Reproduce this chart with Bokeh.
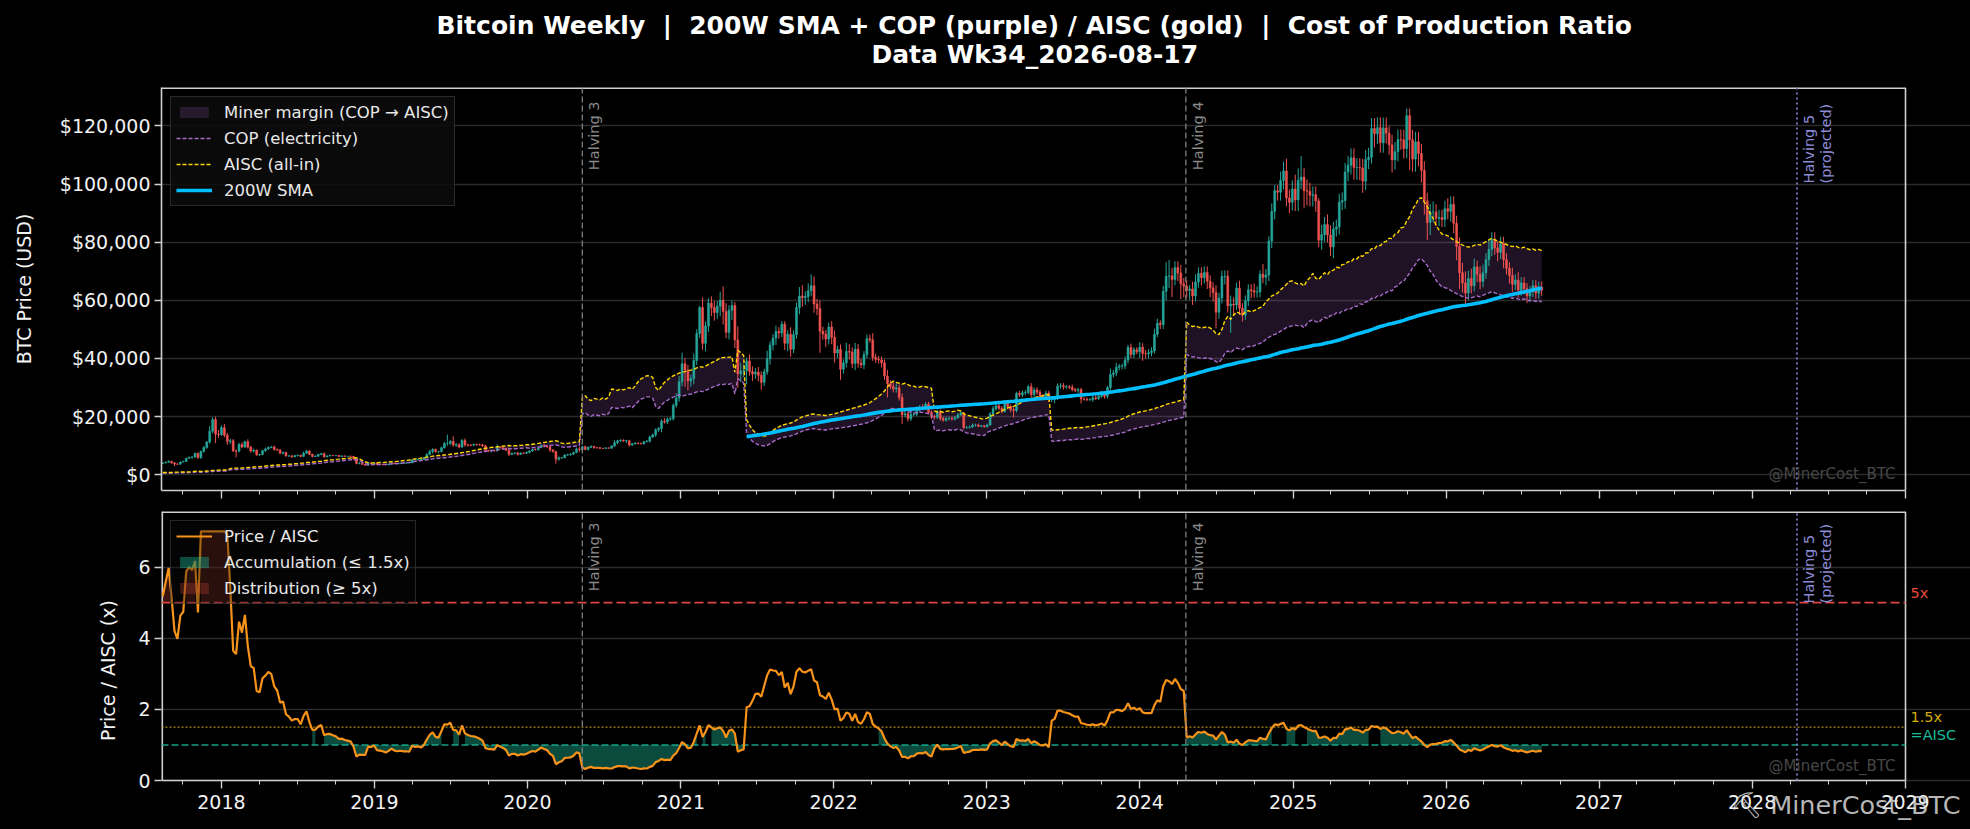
import numpy as np
import pandas as pd
from bokeh.plotting import figure
from bokeh.layouts import column
from bokeh.models import (ColumnDataSource, Range1d, FixedTicker, NumeralTickFormatter,
                          CustomJSTickFormatter, DatetimeTickFormatter, Span, Label,
                          Legend, LegendItem, Title)
from bokeh.embed import file_html
from bokeh.resources import INLINE

# ---------------- data: weekly (Monday-dated) values, USD thousands ----------------
close_2017 = [4.09, 4.35, 4.60, 4.12, 3.70, 3.66, 4.40, 4.60, 5.70, 6.00, 6.15, 7.40, 5.95, 8.05, 9.35, 11.25, 15.00, 19.00, 14.00, 13.80]
close_2018 = [16.2, 13.6, 11.5, 11.7, 8.2, 8.1, 10.4, 9.6, 11.4, 9.5, 8.2, 8.4, 6.9, 7.0, 8.3, 8.9, 9.4, 9.6, 8.7, 8.5, 7.4, 7.7, 6.5, 6.5, 6.2, 6.6, 6.7, 6.35, 7.4, 8.2, 7.0, 6.3, 6.4, 7.0, 7.3, 6.2, 6.5, 6.7, 6.6, 6.6, 6.3, 6.5, 6.35, 6.4, 6.35, 5.6, 3.9, 4.0, 3.6, 3.25, 4.0, 3.85, 4.05]
close_2019 = [3.55, 3.55, 3.45, 3.40, 3.65, 4.00, 3.80, 3.80, 3.95, 4.00, 4.05, 4.10, 5.15, 5.15, 5.30, 5.30, 5.80, 7.00, 8.00, 8.70, 8.00, 8.00, 9.30, 10.80, 10.80, 11.50, 10.20, 10.35, 9.55, 11.80, 10.30, 10.20, 10.15, 10.40, 10.35, 10.30, 9.98, 8.30, 8.15, 8.30, 8.23, 9.55, 9.30, 9.05, 8.50, 7.05, 7.40, 7.50, 7.05, 7.50, 7.40, 7.75]
close_2020 = [8.20, 8.70, 8.60, 9.35, 10.15, 9.90, 9.65, 8.55, 8.00, 5.35, 5.85, 5.90, 6.80, 6.90, 7.10, 7.70, 8.90, 8.70, 9.67, 8.72, 9.45, 9.75, 9.35, 9.30, 9.10, 9.08, 9.25, 9.16, 9.93, 11.05, 11.68, 11.85, 11.65, 11.70, 10.25, 10.68, 10.92, 10.78, 10.67, 11.38, 11.50, 13.03, 13.74, 15.48, 15.96, 18.40, 18.20, 19.15, 19.25, 23.85, 26.45, 32.00]
close_2021 = [38.2, 36.0, 32.25, 33.1, 39.3, 48.6, 57.5, 45.2, 51.2, 59.0, 57.5, 55.8, 58.0, 60.0, 56.2, 49.0, 56.6, 58.2, 46.4, 34.7, 35.7, 35.8, 39.1, 35.5, 34.7, 35.3, 34.2, 31.8, 35.4, 39.9, 44.6, 47.0, 49.3, 48.8, 51.8, 45.2, 48.3, 43.2, 48.2, 57.5, 61.5, 60.9, 61.3, 63.3, 65.0, 58.7, 57.2, 49.4, 48.4, 46.7, 50.8, 47.3]
close_2022 = [41.9, 43.1, 36.3, 38.5, 42.4, 42.2, 38.3, 43.2, 38.4, 37.8, 41.3, 46.8, 46.4, 40.4, 39.7, 39.5, 38.5, 34.0, 31.3, 30.3, 29.5, 29.9, 26.6, 20.6, 21.0, 19.3, 20.8, 20.8, 22.6, 23.3, 23.2, 24.3, 21.5, 20.0, 19.8, 21.8, 19.4, 18.8, 19.3, 19.4, 19.2, 19.6, 20.6, 21.3, 16.3, 16.3, 16.45, 17.1, 17.1, 16.7, 16.84, 16.55]
close_2023 = [17.1, 20.9, 22.7, 23.7, 22.9, 21.8, 24.6, 23.5, 22.4, 22.1, 28.0, 27.5, 28.2, 28.3, 30.3, 27.6, 29.2, 28.4, 26.9, 26.85, 28.1, 25.8, 25.9, 26.5, 30.5, 30.6, 30.2, 30.25, 30.1, 29.3, 29.05, 29.3, 26.1, 26.0, 25.85, 25.85, 26.5, 26.25, 27.0, 27.9, 27.0, 30.0, 34.5, 35.0, 37.0, 37.4, 37.45, 39.5, 43.8, 41.4, 43.0, 42.3]
close_2024 = [43.9, 41.7, 41.6, 42.0, 42.6, 48.3, 52.1, 51.7, 63.1, 68.3, 68.4, 67.2, 71.3, 69.4, 65.7, 64.9, 63.4, 63.9, 61.5, 66.3, 69.3, 67.8, 69.6, 66.6, 64.3, 62.7, 55.9, 60.8, 68.2, 68.3, 58.1, 58.7, 58.4, 64.2, 57.3, 54.9, 59.9, 63.6, 63.3, 62.8, 62.9, 69.0, 67.9, 68.7, 80.4, 90.6, 97.7, 97.2, 101.2, 104.5, 95.2, 93.7, 98.3]
close_2025 = [94.5, 101.3, 102.4, 97.7, 97.5, 96.1, 96.3, 94.2, 80.7, 82.6, 86.1, 82.5, 78.4, 84.5, 85.2, 93.8, 94.3, 104.1, 106.5, 109.0, 105.7, 105.7, 105.5, 101.0, 108.4, 109.2, 119.1, 117.3, 119.4, 114.2, 119.3, 117.5, 113.5, 108.3, 111.1, 115.3, 115.2, 112.2, 123.5, 115.2, 108.6, 114.5, 110.5, 104.7, 94.2, 86.8, 90.4, 90.4, 88.2, 88.5, 87.8, 91.5]
close_2026 = [90.6, 93.0, 86.5, 78.5, 69.5, 66.0, 62.5, 67.5, 65.0, 71.5, 69.0, 66.5, 69.5, 74.0, 77.5, 81.0, 78.0, 76.5, 79.5, 74.0, 71.0, 68.5, 65.5, 67.0, 63.5, 66.0, 64.0, 61.5, 63.0, 65.0, 62.5, 64.5, 63.5]
first_open = 3.95

# weekly wick sizes, % above the body top / below the body bottom
up_2017 = [4, 3, 8, 5, 4, 6, 3, 5, 2, 4, 3, 2, 3, 3, 6, 3, 12, 4, 5, 10]
dn_2017 = [5, 3, 4, 8, 20, 5, 3, 4, 2, 3, 8, 6, 8, 8, 5, 4, 5, 5, 22, 8]
up_2018 = [5, 8, 6, 6, 5, 6, 6, 8, 3, 7, 5, 7, 4, 3, 3, 5, 4, 3, 5, 4, 4, 3, 3, 3, 5, 3, 4, 3, 8, 3, 3, 4, 4, 3, 2, 5, 3, 3, 3, 2, 3, 2, 2, 1, 2, 2, 6, 8, 10, 3, 5, 3, 3]
dn_2018 = [3, 5, 10, 8, 4, 26, 4, 5, 4, 5, 8, 7, 5, 6, 4, 5, 3, 3, 5, 3, 4, 5, 4, 4, 6, 3, 4, 5, 3, 3, 3, 5, 3, 3, 4, 5, 3, 3, 3, 2, 3, 2, 2, 2, 2, 7, 8, 8, 5, 2, 3, 4, 3]
up_2019 = [3, 2, 3, 3, 2, 3, 3, 3, 3, 2, 2, 2, 3, 3, 3, 3, 5, 6, 8, 5, 4, 3, 4, 5, 28, 4, 15, 6, 5, 4, 6, 3, 4, 3, 3, 4, 3, 3, 3, 3, 3, 10, 3, 3, 4, 3, 3, 3, 4, 3, 3, 3]
dn_2019 = [4, 3, 3, 3, 2, 2, 4, 3, 2, 2, 2, 2, 2, 5, 3, 3, 3, 3, 4, 9, 5, 6, 4, 3, 8, 6, 5, 6, 5, 4, 6, 5, 4, 3, 3, 2, 4, 7, 4, 5, 3, 3, 3, 4, 5, 8, 4, 5, 6, 3, 3, 3]
up_2020 = [4, 3, 4, 4, 3, 4, 3, 4, 4, 3, 8, 3, 4, 4, 5, 3, 5, 8, 3, 4, 3, 4, 3, 2, 2, 2, 3, 2, 2, 8, 3, 3, 3, 3, 3, 2, 3, 2, 3, 2, 4, 3, 3, 3, 3, 4, 6, 3, 3, 3, 6, 6]
dn_2020 = [5, 4, 3, 3, 2, 5, 4, 8, 5, 28, 10, 6, 4, 4, 5, 3, 4, 10, 5, 3, 4, 3, 4, 3, 3, 2, 2, 2, 2, 3, 5, 3, 3, 6, 6, 3, 3, 3, 2, 3, 2, 3, 3, 5, 5, 8, 3, 4, 3, 3, 3, 5]
up_2021 = [10, 5, 5, 4, 6, 3, 1, 6, 3, 3, 4, 4, 3, 5, 8, 5, 3, 3, 2, 10, 8, 6, 3, 6, 5, 4, 5, 4, 3, 7, 3, 3, 4, 3, 2, 2, 3, 5, 3, 3, 5, 6, 3, 4, 6, 5, 3, 5, 3, 3, 3, 4]
dn_2021 = [5, 16, 10, 6, 6, 4, 3, 5, 6, 4, 5, 5, 4, 6, 8, 4, 5, 6, 6, 14, 8, 6, 13, 4, 7, 5, 6, 8, 4, 3, 5, 4, 5, 4, 3, 5, 6, 6, 3, 3, 4, 5, 4, 3, 3, 5, 4, 15, 4, 6, 4, 5]
up_2022 = [5, 3, 4, 3, 7, 6, 4, 5, 4, 4, 3, 3, 3, 5, 3, 3, 3, 3, 6, 4, 5, 5, 4, 5, 6, 3, 5, 3, 4, 3, 4, 3, 3, 3, 3, 3, 3, 3, 3, 3, 3, 3, 3, 3, 1, 3, 3, 3, 3, 3, 2, 2]
dn_2022 = [8, 4, 10, 4, 4, 6, 4, 6, 4, 3, 4, 3, 2, 3, 3, 3, 4, 4, 15, 3, 4, 4, 4, 15, 4, 5, 4, 3, 3, 3, 3, 3, 3, 4, 4, 3, 4, 3, 3, 3, 3, 3, 2, 2, 4, 3, 2, 2, 3, 2, 2, 2]
up_2023 = [3, 3, 4, 3, 3, 3, 4, 3, 3, 3, 2, 3, 3, 3, 2, 4, 3, 3, 3, 3, 3, 3, 3, 2, 3, 3, 3, 2, 2, 3, 2, 2, 2, 2, 2, 2, 3, 3, 3, 3, 3, 2, 6, 3, 4, 2, 2, 3, 2, 3, 2, 2]
dn_2023 = [2, 1, 3, 3, 3, 3, 2, 4, 4, 11, 3, 3, 3, 3, 2, 3, 3, 3, 3, 2, 3, 3, 3, 5, 3, 3, 3, 2, 2, 2, 2, 3, 6, 2, 2, 2, 3, 2, 2, 2, 3, 3, 3, 3, 3, 3, 3, 3, 3, 3, 3, 2]
up_2024 = [4, 3, 3, 3, 3, 4, 3, 2, 3, 7, 8, 4, 3, 3, 4, 3, 3, 2, 4, 4, 3, 3, 3, 3, 3, 3, 4, 3, 3, 3, 3, 5, 4, 3, 4, 3, 3, 3, 3, 4, 3, 2, 5, 3, 2, 3, 2, 2, 3, 3, 4, 3, 3]
dn_2024 = [5, 6, 4, 4, 3, 2, 2, 3, 3, 5, 6, 9, 3, 4, 8, 6, 4, 5, 5, 3, 3, 4, 3, 4, 5, 5, 10, 4, 3, 4, 4, 16, 6, 3, 4, 4, 3, 3, 4, 3, 3, 3, 3, 4, 3, 3, 3, 3, 3, 3, 3, 4, 3]
up_2025 = [5, 4, 7, 3, 4, 3, 3, 3, 1, 4, 3, 4, 4, 3, 3, 3, 3, 3, 3, 3, 3, 3, 3, 3, 3, 3, 3, 3, 3, 3, 3, 3, 2, 3, 3, 3, 3, 3, 2, 2, 3, 3, 3, 3, 3, 3, 3, 4, 3, 3, 3, 3]
dn_2025 = [4, 4, 3, 6, 5, 4, 4, 4, 3, 4, 3, 3, 4, 5, 3, 3, 3, 3, 3, 3, 4, 4, 4, 4, 3, 3, 2, 4, 3, 3, 3, 3, 3, 4, 3, 3, 3, 3, 3, 9, 4, 4, 4, 4, 5, 7, 5, 4, 3, 3, 3, 3]
up_2026 = [4, 3, 3, 3, 4, 5, 6, 4, 5, 4, 3, 4, 4, 3, 4, 3, 3, 3, 3, 3, 3, 3, 4, 3, 4, 3, 3, 3, 3, 3, 3, 3, 3]
dn_2026 = [3, 4, 4, 6, 8, 5, 6, 4, 4, 3, 4, 4, 3, 3, 3, 3, 3, 4, 3, 4, 3, 4, 4, 3, 4, 3, 3, 4, 3, 3, 3, 3, 3]

aisc_2017 = [0.79, 0.78, 0.77, 0.80, 0.88, 0.92, 0.95, 0.97, 0.97, 1.00, 1.04, 1.20, 1.26, 1.14, 1.20, 1.30, 1.40, 1.50, 1.55, 1.60]
aisc_2018 = [1.65, 1.64, 1.66, 2.15, 2.25, 2.28, 2.33, 2.31, 2.45, 2.52, 2.55, 2.66, 2.74, 2.82, 2.89, 3.02, 3.08, 3.21, 3.29, 3.36, 3.38, 3.47, 3.49, 3.62, 3.68, 3.82, 3.88, 4.02, 4.08, 4.22, 4.28, 4.42, 4.48, 4.62, 4.68, 4.87, 4.98, 5.12, 5.18, 5.32, 5.38, 5.52, 5.58, 5.72, 5.78, 5.86, 5.78, 5.50, 5.00, 4.50, 4.20, 4.10, 4.12]
aisc_2019 = [4.15, 4.22, 4.20, 4.32, 4.38, 4.47, 4.52, 4.62, 4.72, 4.88, 4.93, 5.08, 5.28, 5.47, 5.52, 5.73, 5.83, 6.08, 6.22, 6.43, 6.52, 6.63, 6.68, 6.83, 6.88, 7.08, 7.17, 7.33, 7.42, 7.63, 7.78, 7.98, 8.12, 8.38, 8.52, 8.78, 8.92, 9.13, 9.22, 9.43, 9.47, 9.63, 9.72, 9.88, 9.92, 10.08, 9.87, 9.98, 10.02, 10.13, 10.17, 10.33]
aisc_2020 = [10.35, 10.50, 10.62, 10.80, 10.95, 11.15, 11.30, 11.45, 11.60, 11.70, 11.40, 10.90, 10.70, 10.80, 10.95, 11.10, 11.25, 11.40,
             26.5, 27.2, 26.0, 25.5, 26.3, 26.0, 25.8, 26.5, 26.0, 26.8, 29.5, 29.3, 29.0, 29.5, 29.2, 29.6, 30.0, 29.4, 30.5, 32.0, 33.0, 33.5, 34.1, 34.0, 33.5, 30.0, 29.0, 30.5, 31.8, 32.6, 33.5, 34.0, 34.5, 35.0]
aisc_2021 = [35.3, 35.5, 35.8, 36.0, 36.3, 36.8, 37.2, 37.0, 37.4, 38.0, 38.5, 39.0, 39.5, 40.2, 40.3, 40.5, 40.4, 40.6, 35.3, 42.8, 42.0, 41.0, 19.0, 17.0, 15.5, 14.5, 14.0, 13.5, 13.3, 13.5, 14.3, 15.2, 16.0, 16.5, 17.0, 17.3, 17.6, 17.8, 18.2, 18.8, 19.5, 19.9, 20.2, 20.5, 20.8, 20.9, 20.7, 20.6, 20.5, 20.4, 20.6, 20.8]
aisc_2022 = [21.0, 21.3, 21.6, 21.9, 22.2, 22.5, 22.8, 23.1, 23.4, 23.7, 24.0, 24.4, 24.8, 25.5, 26.2, 27.0, 27.8, 28.8, 30.2, 31.5, 32.2, 31.8, 31.5, 31.2, 31.5, 31.0, 30.5, 30.5, 30.0, 30.2, 30.5, 30.3, 30.0, 29.8, 22.0, 21.6, 21.8, 21.5, 21.8, 22.0, 21.7, 21.9, 22.2, 22.0, 21.0, 20.5, 20.3, 20.0, 19.8, 19.5, 19.3, 19.2]
aisc_2023 = [19.5, 20.0, 20.5, 21.0, 21.5, 22.0, 22.5, 23.0, 23.3, 23.5, 24.0, 24.5, 25.0, 25.5, 26.0, 26.3, 26.5, 26.8, 27.0, 27.2, 27.5, 27.6, 15.4, 15.3, 15.5, 15.6, 15.7, 15.9, 16.0, 16.0, 16.2, 16.3, 16.2, 16.3, 16.5, 16.6, 16.8, 17.0, 17.2, 17.4, 17.5, 17.7, 18.0, 18.3, 18.6, 18.9, 19.2, 19.6, 20.2, 20.6, 21.0, 21.3]
aisc_2024 = [21.6, 21.8, 22.0, 22.2, 22.5, 22.8, 23.1, 23.4, 23.8, 24.2, 24.5, 24.8, 25.0, 25.3, 25.6, 25.8,
             52.5, 51.5, 51.0, 51.2, 50.8, 50.5, 50.7, 50.9, 50.5, 49.8, 48.5, 48.2, 50.0, 53.0, 54.5, 53.5, 55.0, 56.0, 55.5, 55.0, 56.0, 56.5, 56.0, 56.5, 57.0, 57.5, 58.0, 59.5, 60.5, 61.5, 62.0, 62.5, 63.6, 64.5, 65.5, 66.5, 66.7]
aisc_2025 = [66.0, 65.6, 65.8, 64.9, 66.7, 67.8, 69.3, 67.6, 67.2, 68.4, 69.5, 68.8, 70.2, 70.3, 71.4, 71.2, 72.3, 72.4, 73.3, 73.2, 74.3, 74.2, 75.4, 75.1, 76.3, 76.4, 77.8, 77.7, 78.9, 78.8, 79.9, 80.3, 81.4, 81.2, 82.8, 83.3, 84.9, 85.2, 87.3, 88.8, 91.4, 92.8, 94.9, 95.3, 93.8, 92.3, 89.7, 88.3, 85.8, 84.2, 82.8, 82.6]
aisc_2026 = [82.2, 81.5, 80.8, 80.2, 79.6, 79.0, 78.7, 78.3, 78.5, 78.9, 79.3, 79.0, 79.6, 80.2, 80.8, 81.3, 80.9, 80.4, 80.0, 79.6, 79.2, 78.8, 78.5, 78.8, 78.2, 77.9, 78.3, 77.8, 77.4, 77.7, 77.2, 77.5, 77.1]

cop_2017 = [0.56, 0.56, 0.55, 0.58, 0.64, 0.67, 0.70, 0.71, 0.72, 0.74, 0.77, 0.90, 0.95, 0.86, 0.90, 0.98, 1.06, 1.14, 1.19, 1.24]
cop_2018 = [1.28, 1.30, 1.31, 1.70, 1.78, 1.83, 1.84, 1.86, 1.96, 2.01, 2.06, 2.14, 2.22, 2.27, 2.36, 2.44, 2.53, 2.62, 2.71, 2.76, 2.81, 2.86, 2.91, 3.00, 3.09, 3.18, 3.27, 3.37, 3.46, 3.55, 3.65, 3.74, 3.84, 3.93, 4.03, 4.17, 4.31, 4.41, 4.51, 4.62, 4.72, 4.82, 4.93, 5.03, 5.14, 5.20, 5.15, 4.85, 4.35, 3.85, 3.55, 3.48, 3.50]
cop_2019 = [3.45, 3.52, 3.50, 3.60, 3.66, 3.74, 3.80, 3.88, 3.97, 4.10, 4.15, 4.28, 4.45, 4.62, 4.68, 4.86, 4.95, 5.18, 5.30, 5.49, 5.58, 5.68, 5.74, 5.88, 5.93, 6.11, 6.20, 6.35, 6.44, 6.64, 6.78, 6.97, 7.11, 7.35, 7.49, 7.73, 7.87, 8.07, 8.17, 8.37, 8.42, 8.58, 8.67, 8.83, 8.88, 9.04, 8.86, 8.97, 9.01, 9.12, 9.16, 9.31]
cop_2020 = [9.15, 9.28, 9.38, 9.52, 9.66, 9.82, 9.95, 10.08, 10.20, 10.28, 10.02, 9.60, 9.42, 9.50, 9.63, 9.76, 9.90, 10.02,
            20.8, 21.4, 20.5, 20.1, 20.7, 20.5, 20.3, 20.9, 20.5, 21.1, 23.2, 23.0, 22.8, 23.2, 23.0, 23.3, 23.6, 23.1, 24.0, 25.2, 26.0, 26.4, 26.8, 26.8, 26.4, 23.6, 22.8, 24.0, 25.0, 25.6, 26.3, 26.7, 27.1, 27.5]
cop_2021 = [27.0, 27.3, 27.6, 27.8, 28.1, 28.5, 28.8, 28.6, 29.0, 29.5, 30.0, 30.4, 30.7, 31.2, 31.0, 31.3, 31.1, 31.5, 27.8, 33.0, 32.4, 31.5, 14.2, 12.6, 11.5, 10.8, 10.4, 10.1, 9.9, 10.1, 10.7, 11.4, 12.0, 12.4, 12.8, 13.0, 13.2, 13.4, 13.7, 14.1, 14.6, 15.0, 15.4, 15.6, 15.8, 15.9, 15.7, 15.6, 15.5, 15.4, 15.6, 15.8]
cop_2022 = [15.9, 16.0, 16.1, 16.3, 16.4, 16.6, 16.8, 17.0, 17.2, 17.4, 17.6, 17.9, 18.2, 18.7, 19.2, 19.8, 20.4, 21.2, 22.0, 22.8, 22.7, 22.4, 22.1, 22.4, 22.0, 21.6, 21.6, 21.2, 21.4, 21.6, 21.4, 21.2, 21.0, 20.8, 15.5, 15.2, 15.4, 15.1, 15.4, 15.5, 15.3, 15.4, 15.7, 15.5, 14.8, 14.4, 14.3, 14.1, 13.9, 13.7, 13.6, 13.5]
cop_2023 = [14.6, 15.0, 15.3, 15.7, 16.1, 16.5, 16.8, 17.2, 17.4, 17.6, 18.0, 18.3, 18.7, 19.1, 19.4, 19.7, 19.8, 20.0, 20.2, 20.3, 20.6, 20.7, 11.6, 11.5, 11.7, 11.8, 11.8, 12.0, 12.1, 12.0, 12.2, 12.3, 12.2, 12.3, 12.5, 12.5, 12.7, 12.8, 13.0, 13.1, 13.2, 13.3, 13.5, 13.7, 14.0, 14.2, 14.4, 14.7, 15.2, 15.5, 15.8, 16.0]
cop_2024 = [16.3, 16.5, 16.7, 16.8, 17.1, 17.3, 17.5, 17.8, 18.1, 18.4, 18.7, 18.9, 19.1, 19.4, 19.6, 19.8,
            41.4, 40.8, 40.5, 40.6, 40.2, 40.0, 40.1, 40.3, 40.0, 39.6, 38.9, 38.7, 39.8, 41.8, 42.6, 42.0, 43.0, 43.6, 43.3, 43.0, 43.8, 44.2, 44.0, 44.4, 44.8, 45.2, 45.6, 46.6, 47.3, 47.9, 48.3, 48.7, 49.4, 50.0, 50.6, 51.0, 51.2]
cop_2025 = [51.5, 51.2, 51.4, 50.6, 52.0, 52.9, 53.3, 52.7, 52.4, 53.4, 54.2, 53.7, 54.8, 54.8, 55.7, 55.5, 56.4, 56.5, 57.2, 57.1, 58.0, 57.9, 58.8, 58.6, 59.5, 59.6, 60.7, 60.6, 61.5, 61.5, 62.3, 62.6, 63.5, 63.3, 64.6, 65.0, 66.2, 66.5, 68.1, 69.3, 71.3, 72.4, 74.0, 74.3, 73.2, 72.0, 70.0, 68.9, 66.9, 65.7, 64.6, 64.4]
cop_2026 = [64.0, 63.4, 62.8, 62.3, 61.8, 61.3, 61.0, 60.7, 60.9, 61.2, 61.5, 61.2, 61.7, 62.2, 62.6, 63.0, 62.6, 62.2, 61.9, 61.6, 61.2, 60.9, 60.7, 60.9, 60.4, 60.2, 60.5, 60.1, 59.8, 60.0, 59.6, 59.8, 59.5]

years = [2017, 2018, 2019, 2020, 2021, 2022, 2023, 2024, 2025, 2026]
close_by_year = dict(zip(years, [close_2017, close_2018, close_2019, close_2020, close_2021, close_2022, close_2023, close_2024, close_2025, close_2026]))
up_by_year = dict(zip(years, [up_2017, up_2018, up_2019, up_2020, up_2021, up_2022, up_2023, up_2024, up_2025, up_2026]))
dn_by_year = dict(zip(years, [dn_2017, dn_2018, dn_2019, dn_2020, dn_2021, dn_2022, dn_2023, dn_2024, dn_2025, dn_2026]))
aisc_by_year = dict(zip(years, [aisc_2017, aisc_2018, aisc_2019, aisc_2020, aisc_2021, aisc_2022, aisc_2023, aisc_2024, aisc_2025, aisc_2026]))
cop_by_year = dict(zip(years, [cop_2017, cop_2018, cop_2019, cop_2020, cop_2021, cop_2022, cop_2023, cop_2024, cop_2025, cop_2026]))

halving_dates = ["2020-05-11", "2024-04-20"]
halving_names = ["Halving 3", "Halving 4"]
halving5_date = "2028-04-17"
tick_years = list(range(2018, 2030))
price_ticks = [0, 20000, 40000, 60000, 80000, 100000, 120000]
ratio_ticks = [0, 2, 4, 6]
sma_window = 200
acc_level = 1.5
dist_level = 5.0
aisc_level = 1.0
ratio_cap = 7.0
title_line1 = "Bitcoin Weekly \u00a0|\u00a0 200W SMA + COP (purple) / AISC (gold) \u00a0|\u00a0 Cost of Production Ratio"
title_line2 = "Data Wk34_2026-08-17"

# ---------------- assemble ----------------
def week_starts(y):
    s = "2017-08-14" if y == 2017 else f"{y}-01-01"
    e = "2026-08-17" if y == 2026 else f"{y}-12-31"
    return pd.date_range(s, e, freq="W-MON")

dates, close, aisc, cop, upw, dnw = [], [], [], [], [], []
for y in years:
    d = week_starts(y)
    n = min(len(d), len(close_by_year[y]), len(aisc_by_year[y]), len(cop_by_year[y]),
            len(up_by_year[y]), len(dn_by_year[y]))
    dates += list(d[:n]); close += close_by_year[y][:n]; aisc += aisc_by_year[y][:n]; cop += cop_by_year[y][:n]
    upw += up_by_year[y][:n]; dnw += dn_by_year[y][:n]
dates = pd.DatetimeIndex(dates)
close = np.array(close) * 1000.0
aisc = np.array(aisc) * 1000.0
cop = np.array(cop) * 1000.0
opens = np.concatenate([[first_open * 1000.0], close[:-1]])
body_top = np.maximum(opens, close)
body_bot = np.minimum(opens, close)
high = body_top * (1 + np.array(upw) / 100.0)
low = body_bot * (1 - np.array(dnw) / 100.0)
sma = pd.Series(close).rolling(sma_window).mean().values
ratio = np.minimum(close / aisc, ratio_cap)

def ms(s):
    return pd.Timestamp(s).value / 1e6

# layout (page px)
W, H = 1970, 829
FL, FR = 161, 1905           # visible axes box left/right
T1, B1 = 87, 490             # top panel box
T2, B2 = 511, 780            # bottom panel box
H1 = 506
X0, X1 = ms("2017-08-11"), ms("2029-01-01")
X1e = X0 + (W - FL) / (FR - FL) * (X1 - X0)     # frame runs to the page edge
Y0, Y1 = -5400, 133200
R0, R1 = 0, 7.56
Rb = -(H - B2) / ((B2 - T2) / (R1 - R0))
FONT = "DejaVu Sans"
AX = "#d0d0d0"
TXT = "#f2f2f2"
GRID = "#2b2b2b"
BLACK_BG = {"background-color": "black"}

def style(p):
    p.background_fill_color = "black"
    p.border_fill_color = "black"
    p.outline_line_color = None
    p.xgrid.visible = False
    p.ygrid.grid_line_color = GRID
    p.ygrid.grid_line_width = 1.3
    p.ygrid.bounds = (X0, X1)
    for ax in p.axis:
        ax.axis_line_color = AX
        ax.axis_line_width = 1.6
        ax.major_tick_line_color = AX
        ax.major_tick_line_width = 1.4
        ax.minor_tick_line_color = AX
        ax.major_tick_in = 0
        ax.minor_tick_in = 0
        ax.major_label_text_font = FONT
        ax.major_label_text_font_size = "19px"
        ax.major_label_text_color = TXT
        ax.axis_label_text_font = FONT
        ax.axis_label_text_font_size = "19px"
        ax.axis_label_text_font_style = "normal"
        ax.axis_label_text_color = TXT
    p.yaxis.minor_tick_line_color = None
    p.yaxis.major_tick_out = 7
    p.xaxis.major_tick_out = 8
    p.xaxis.minor_tick_out = 4
    p.xaxis.bounds = (X0, X1)
    p.xaxis.ticker = FixedTicker(ticks=[ms(f"{y}-01-01") for y in tick_years],
                                 minor_ticks=[ms(f"{y}-{m:02d}-01") for y in range(2017, 2029) for m in (4, 7, 10)
                                              if ms(f"{y}-{m:02d}-01") > X0])

xr = Range1d(X0, X1e)
p1 = figure(width=W, height=H1, x_axis_type="datetime", x_range=xr,
            y_range=Range1d(Y0, Y1), output_backend="svg", toolbar_location=None,
            min_border_left=FL, min_border_right=0, min_border_top=T1, min_border_bottom=H1 - B1,
            styles=BLACK_BG)
style(p1)
p1.yaxis.ticker = FixedTicker(ticks=price_ticks)
p1.yaxis.formatter = NumeralTickFormatter(format="$0,0")
p1.yaxis.axis_label = "BTC Price (USD)"
p1.yaxis.axis_label_standoff = 22
p1.yaxis.major_label_standoff = 4
p1.xaxis.formatter = CustomJSTickFormatter(code="return ''")
p1.xaxis.major_label_text_font_size = "1px"
p1.xaxis.major_label_standoff = 0
p1.segment(x0=[X0], y0=[Y1], x1=[X1], y1=[Y1], line_color=AX, line_width=3.2)
p1.segment(x0=[X1], y0=[Y0], x1=[X1], y1=[Y1], line_color=AX, line_width=1.6)

p1.add_layout(Title(text="\u00a0", text_font_size="2px", standoff=15), "above")
p1.add_layout(Title(text=title_line2, align="left", offset=710, text_font=FONT, text_font_size="25px",
                    text_font_style="bold", text_color="white", standoff=0), "above")
p1.add_layout(Title(text=title_line1, align="left", offset=275, text_font=FONT, text_font_size="25px",
                    text_font_style="bold", text_color="white", standoff=-4), "above")

src = ColumnDataSource(dict(x=dates, top=body_top, bottom=body_bot, high=high, low=low,
                            color=np.where(close >= opens, "#26a69a", "#ef5350"),
                            cop=cop, aisc=aisc, sma=sma))
r_fill = p1.varea(x="x", y1="cop", y2="aisc", source=src, fill_color="#9b59b6", fill_alpha=0.2)
p1.segment(x0="x", y0="low", x1="x", y1="high", source=src, line_color="color", line_width=1)
p1.vbar(x="x", width=4.5 * 86400000, top="top", bottom="bottom", source=src,
        fill_color="color", line_color="color", line_width=0.6)
r_cop = p1.line(x="x", y="cop", source=src, line_color="#a66bc9", line_width=1.4, line_dash="4 2")
r_aisc = p1.line(x="x", y="aisc", source=src, line_color="#ffd700", line_width=1.4, line_dash="4 2")
sma_src = ColumnDataSource(dict(x=dates[sma_window - 1:], y=sma[sma_window - 1:]))
r_sma = p1.line(x="x", y="y", source=sma_src, line_color="#00bfff", line_width=3.6)

# ---------------- ratio panel ----------------
p2 = figure(width=W, height=H - H1, x_axis_type="datetime", x_range=xr,
            y_range=Range1d(Rb, R1), output_backend="svg", toolbar_location=None,
            min_border_left=FL, min_border_right=0, min_border_top=T2 - H1, min_border_bottom=0,
            styles=BLACK_BG)
style(p2)
p2.yaxis.bounds = (R0, R1)
p2.yaxis.axis_line_color = None
p2.xaxis.axis_line_color = None
p2.xaxis.bounds = "auto"
p2.xaxis.fixed_location = 0
p2.yaxis.ticker = FixedTicker(ticks=ratio_ticks)
p2.yaxis.axis_label = "Price / AISC (x)"
p2.yaxis.axis_label_standoff = 16
p2.yaxis.major_label_standoff = 4
p2.xaxis.major_label_standoff = 6
p2.xaxis.formatter = DatetimeTickFormatter(years="%Y", months="%Y", days="%Y", hours="%Y")
p2.segment(x0=[X0], y0=[Rb], x1=[X0], y1=[R0], line_color="black", line_width=4)
p2.segment(x0=[X0], y0=[R1], x1=[X1], y1=[R1], line_color=AX, line_width=3.2)
p2.segment(x0=[X1], y0=[R0], x1=[X1], y1=[R1], line_color=AX, line_width=1.6)
p2.segment(x0=[X0], y0=[R0], x1=[X0], y1=[R1], line_color=AX, line_width=3.2)
p2.segment(x0=[X0], y0=[R0], x1=[X1], y1=[R0], line_color=AX, line_width=1.6)

def runs(mask):
    out, i, n = [], 0, len(mask)
    while i < n:
        if mask[i]:
            j = i
            while j + 1 < n and mask[j + 1]:
                j += 1
            out.append((i, j))
            i = j + 1
        else:
            i += 1
    return out

acc_r, dist_r = [], []
for a, b in runs(ratio <= acc_level):
    acc_r.append(p2.varea(x=dates[a:b + 1], y1=np.full(b - a + 1, aisc_level), y2=ratio[a:b + 1],
                          fill_color="#1abc9c", fill_alpha=0.4))
for a, b in runs(ratio >= dist_level):
    dist_r.append(p2.varea(x=dates[a:b + 1], y1=np.full(b - a + 1, dist_level), y2=ratio[a:b + 1],
                           fill_color="#e74c3c", fill_alpha=0.25))

p2.segment(x0=[X0], y0=[dist_level], x1=[X1], y1=[dist_level], line_color="#e04545", line_dash="9 4", line_width=1.8)
p2.segment(x0=[X0], y0=[acc_level], x1=[X1], y1=[acc_level], line_color="#d4ac0d", line_dash="2 2", line_width=1.2, line_alpha=0.8)
p2.segment(x0=[X0], y0=[aisc_level], x1=[X1], y1=[aisc_level], line_color="#1abc9c", line_dash="7 3", line_width=1.5, line_alpha=0.85)
r_ratio = p2.line(x=dates, y=ratio, line_color="#f7931a", line_width=2.2)

# ---------------- halvings, labels, watermarks ----------------
for d in halving_dates:
    p1.add_layout(Span(location=ms(d), dimension="height", line_color="#808080", line_dash="6 3", line_width=1.3))
    p2.segment(x0=[ms(d)], y0=[R0], x1=[ms(d)], y1=[R1], line_color="#808080", line_dash="6 3", line_width=1.3)
p1.add_layout(Span(location=ms(halving5_date), dimension="height", line_color="#7b7bc4", line_dash="2 3", line_width=1.8))
p2.segment(x0=[ms(halving5_date)], y0=[R0], x1=[ms(halving5_date)], y1=[R1], line_color="#7b7bc4",
           line_dash="2 3", line_width=1.8)

for p, ytop, off, off5 in ((p1, Y1, 14, 16), (p2, R1, 11, 12)):
    for d, name in zip(halving_dates, halving_names):
        p.add_layout(Label(x=ms(d), y=ytop, x_offset=4, y_offset=-off, text=name, angle=np.pi / 2,
                           text_align="right", text_baseline="top", text_color="#8a8a8a",
                           text_font=FONT, text_font_size="14.5px"))
    p.add_layout(Label(x=ms(halving5_date), y=ytop, x_offset=4, y_offset=-(off5 + 80), text="Halving 5",
                       angle=np.pi / 2, text_align="left", text_baseline="top", text_color="#8c8cd6",
                       text_font=FONT, text_font_size="14.5px"))
    p.add_layout(Label(x=ms(halving5_date), y=ytop, x_offset=21, y_offset=-(off5 + 80), text="(projected)",
                       angle=np.pi / 2, text_align="left", text_baseline="top", text_color="#8c8cd6",
                       text_font=FONT, text_font_size="14.5px"))

p1.add_layout(Label(x=X1, y=Y0, x_offset=-10, y_offset=8, text="@MinerCost_BTC", text_align="right",
                    text_baseline="bottom", text_color="#474747", text_font=FONT, text_font_size="15px"))
p2.add_layout(Label(x=X1, y=R0, x_offset=-10, y_offset=6, text="@MinerCost_BTC", text_align="right",
                    text_baseline="bottom", text_color="#474747", text_font=FONT, text_font_size="15px"))

p2.add_layout(Label(x=X1, y=dist_level, x_offset=5, y_offset=2, text="5x", text_align="left",
                    text_baseline="bottom", text_color="#e74c3c", text_font=FONT, text_font_size="14.5px"))
p2.add_layout(Label(x=X1, y=acc_level, x_offset=5, y_offset=2, text="1.5x", text_align="left",
                    text_baseline="bottom", text_color="#d4ac0d", text_font=FONT, text_font_size="14.5px"))
p2.add_layout(Label(x=X1, y=aisc_level, x_offset=5, y_offset=2, text="=AISC", text_align="left",
                    text_baseline="bottom", text_color="#1abc9c", text_font=FONT, text_font_size="14.5px"))
p2.add_layout(Label(x=X1, y=R0, x_offset=55, y_offset=-24, text="⛏ MinerCost_BTC", text_align="right",
                    text_baseline="middle", text_color="#d8d8d8", text_alpha=0.85, text_font=FONT,
                    text_font_size="25.5px"))

# ---------------- legends ----------------
def legend(items, alpha):
    lg = Legend(items=items, location="top_left")
    lg.background_fill_color = "#0c0c0c"
    lg.background_fill_alpha = alpha
    lg.border_line_color = "#4a4a4a"
    lg.border_line_width = 1.5
    lg.label_text_color = "#e8e8e8"
    lg.label_text_font = FONT
    lg.label_text_font_size = "16.5px"
    lg.glyph_width = 36
    lg.glyph_height = 14
    lg.label_height = 20
    lg.label_standoff = 12
    lg.spacing = 6
    lg.padding = 5
    lg.margin = 9
    return lg

p1.add_layout(legend([LegendItem(label="Miner margin (COP → AISC)", renderers=[r_fill]),
                      LegendItem(label="COP (electricity)", renderers=[r_cop]),
                      LegendItem(label="AISC (all-in)", renderers=[r_aisc]),
                      LegendItem(label="200W SMA", renderers=[r_sma])], 0.85))
p2.add_layout(legend([LegendItem(label="Price / AISC", renderers=[r_ratio]),
                      LegendItem(label="Accumulation (≤ 1.5x)", renderers=acc_r[:1]),
                      LegendItem(label="Distribution (≥ 5x)", renderers=dist_r[:1])], 0.35))

layout = column(p1, p2, styles=BLACK_BG)
open("out.html", "w").write(file_html(layout, INLINE))
